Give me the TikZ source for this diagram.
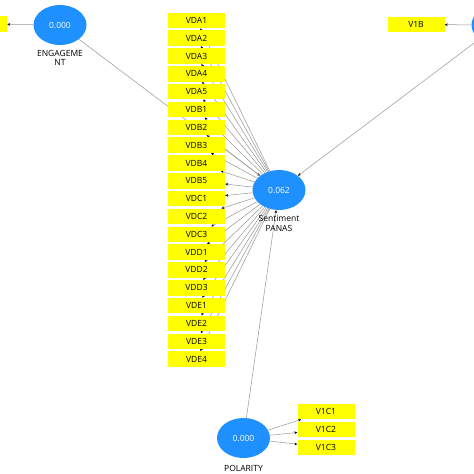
\documentclass[tikz,border=0pt]{standalone}
\usepackage{fontspec}
\setmainfont{Open Sans}
\usepackage{xcolor}
\usepackage{tikz}
\usetikzlibrary{shapes,arrows,arrows.meta,backgrounds}

\definecolor{latentblue}{RGB}{30,144,255}
\definecolor{itemyellow}{RGB}{255,255,0}
\definecolor{pathgray}{RGB}{150,150,150}

\begin{document}
\begin{tikzpicture}[
    x=1pt, y=-1pt,
    latent/.style={ellipse, fill=latentblue, text=white, minimum width=53pt, minimum height=40pt, inner sep=0pt, font=\fontsize{8.5}{9}\selectfont},
    item/.style={rectangle, fill=itemyellow, minimum width=57pt, minimum height=15.5pt, inner sep=0pt, font=\fontsize{8.5}{9}\selectfont},
    lbl/.style={align=center, inner sep=0pt, font=\fontsize{8.5}{9.8}\selectfont},
    arrow/.style={-{Stealth[length=3pt, width=2.6pt, color=black]}, draw=pathgray, line width=0.5pt}
]
    \useasboundingbox (0,0) rectangle (474,474);
    \clip (0,0) rectangle (474,474);

    % latent variables
    \node[latent] (engagement) at (60,25) {0.000};
    \node[latent] (sentiment) at (279,190) {0.062};
    \node[latent] (polarity) at (243.5,438) {0.000};
    \node[latent] (rightvar) at (498,25) {};

    \node[lbl] (englbl) at (60,58) {ENGAGEME\\NT};
    \node[lbl] (sentlbl) at (279,223.5) {Sentiment\\PANAS};
    \node[lbl] (pollbl) at (243.5,468) {POLARITY};

    % indicators
    \node[item] (engbox) at (-21.5,24) {};
    \node[item] (v1b) at (416,24.5) {V1B};

    \node[item] (vda1) at (196.5,20.3) {VDA1};
    \node[item] (vda2) at (196.5,38.1) {VDA2};
    \node[item] (vda3) at (196.5,56.0) {VDA3};
    \node[item] (vda4) at (196.5,73.8) {VDA4};
    \node[item] (vda5) at (196.5,91.6) {VDA5};
    \node[item] (vdb1) at (196.5,109.5) {VDB1};
    \node[item] (vdb2) at (196.5,127.3) {VDB2};
    \node[item] (vdb3) at (196.5,145.1) {VDB3};
    \node[item] (vdb4) at (196.5,163.0) {VDB4};
    \node[item] (vdb5) at (196.5,180.8) {VDB5};
    \node[item] (vdc1) at (196.5,198.6) {VDC1};
    \node[item] (vdc2) at (196.5,216.4) {VDC2};
    \node[item] (vdc3) at (196.5,234.3) {VDC3};
    \node[item] (vdd1) at (196.5,252.1) {VDD1};
    \node[item] (vdd2) at (196.5,269.9) {VDD2};
    \node[item] (vdd3) at (196.5,287.8) {VDD3};
    \node[item] (vde1) at (196.5,305.6) {VDE1};
    \node[item] (vde2) at (196.5,323.4) {VDE2};
    \node[item] (vde3) at (196.5,341.3) {VDE3};
    \node[item] (vde4) at (196.5,359.1) {VDE4};

    \node[item] (v1c1) at (326,411.5) {V1C1};
    \node[item] (v1c2) at (326,429.5) {V1C2};
    \node[item] (v1c3) at (326,447.5) {V1C3};

    \begin{scope}[on background layer]
    % structural paths
    \draw[arrow] (engagement) -- (sentiment);
    \draw[arrow] (rightvar) -- (sentiment);
    \draw[arrow] (polarity) -- (sentiment);

    % outer loadings
    \draw[arrow] (engagement) -- (engbox);
    \draw[arrow] (rightvar) -- (v1b);
    \draw[arrow] (polarity) -- (v1c1);
    \draw[arrow] (polarity) -- (v1c2);
    \draw[arrow] (polarity) -- (v1c3);

    \draw[arrow] (sentiment) -- (vda1);
    \draw[arrow] (sentiment) -- (vda2);
    \draw[arrow] (sentiment) -- (vda3);
    \draw[arrow] (sentiment) -- (vda4);
    \draw[arrow] (sentiment) -- (vda5);
    \draw[arrow] (sentiment) -- (vdb1);
    \draw[arrow] (sentiment) -- (vdb2);
    \draw[arrow] (sentiment) -- (vdb3);
    \draw[arrow] (sentiment) -- (vdb4);
    \draw[arrow] (sentiment) -- (vdb5);
    \draw[arrow] (sentiment) -- (vdc1);
    \draw[arrow] (sentiment) -- (vdc2);
    \draw[arrow] (sentiment) -- (vdc3);
    \draw[arrow] (sentiment) -- (vdd1);
    \draw[arrow] (sentiment) -- (vdd2);
    \draw[arrow] (sentiment) -- (vdd3);
    \draw[arrow] (sentiment) -- (vde1);
    \draw[arrow] (sentiment) -- (vde2);
    \draw[arrow] (sentiment) -- (vde3);
    \draw[arrow] (sentiment) -- (vde4);
    \end{scope}
\end{tikzpicture}
\end{document}
